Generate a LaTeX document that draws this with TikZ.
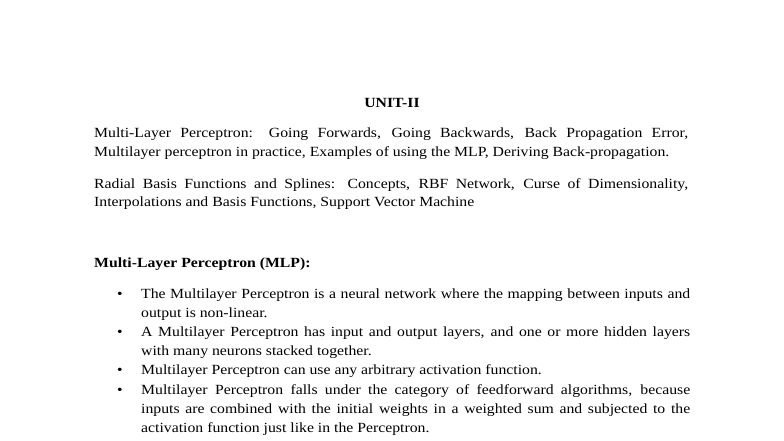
\documentclass[tikz,border=0pt]{standalone}
\usepackage{fontspec}
\setmainfont{Liberation Serif}[FakeStretch=1.125]
\begin{document}
\begin{tikzpicture}[x=1pt,y=-1pt,
  ln/.style={anchor=base west,inner sep=0pt,font=\fontsize{14}{19}\selectfont},
  bl/.style={anchor=base,inner sep=0pt,font=\fontsize{14}{19}\selectfont}]
\path[use as bounding box] (0,0) rectangle (784,441);
\node[anchor=base,inner sep=0pt,font=\fontsize{14}{19}\selectfont\bfseries] (t) at (392,108) {UNIT-II};
\node[ln] (p1) at (94,138) {\hbox to 594pt{Multi-Layer Perceptron: Going Forwards, Going Backwards, Back Propagation Error,}};
\node[ln] (p2) at (94,157) {Multilayer perceptron in practice, Examples of using the MLP, Deriving Back-propagation.};
\node[ln] (p3) at (94,188) {\hbox to 594pt{Radial Basis Functions and Splines: Concepts, RBF Network, Curse of Dimensionality,}};
\node[ln] (p4) at (94,206) {Interpolations and Basis Functions, Support Vector Machine};
\node[ln,font=\fontsize{14}{19}\selectfont\bfseries] (h) at (94,267) {Multi-Layer Perceptron (MLP):};
\node[bl] (b1) at (120,298) {•};
\node[ln] (l1) at (141,298) {\hbox to 549pt{The Multilayer Perceptron is a neural network where the mapping between inputs and}};
\node[ln] (l2) at (141,317) {output is non-linear.};
\node[bl] (b2) at (120,336) {•};
\node[ln] (l3) at (141,336) {\hbox to 549pt{A Multilayer Perceptron has input and output layers, and one or more hidden layers}};
\node[ln] (l4) at (141,355) {with many neurons stacked together.};
\node[bl] (b3) at (120,374) {•};
\node[ln] (l5) at (141,374) {Multilayer Perceptron can use any arbitrary activation function.};
\node[bl] (b4) at (120,394) {•};
\node[ln] (l6) at (141,394) {\hbox to 549pt{Multilayer Perceptron falls under the category of feedforward algorithms, because}};
\node[ln] (l7) at (141,413) {\hbox to 549pt{inputs are combined with the initial weights in a weighted sum and subjected to the}};
\node[ln] (l8) at (141,432) {activation function just like in the Perceptron.};
\end{tikzpicture}
\end{document}
